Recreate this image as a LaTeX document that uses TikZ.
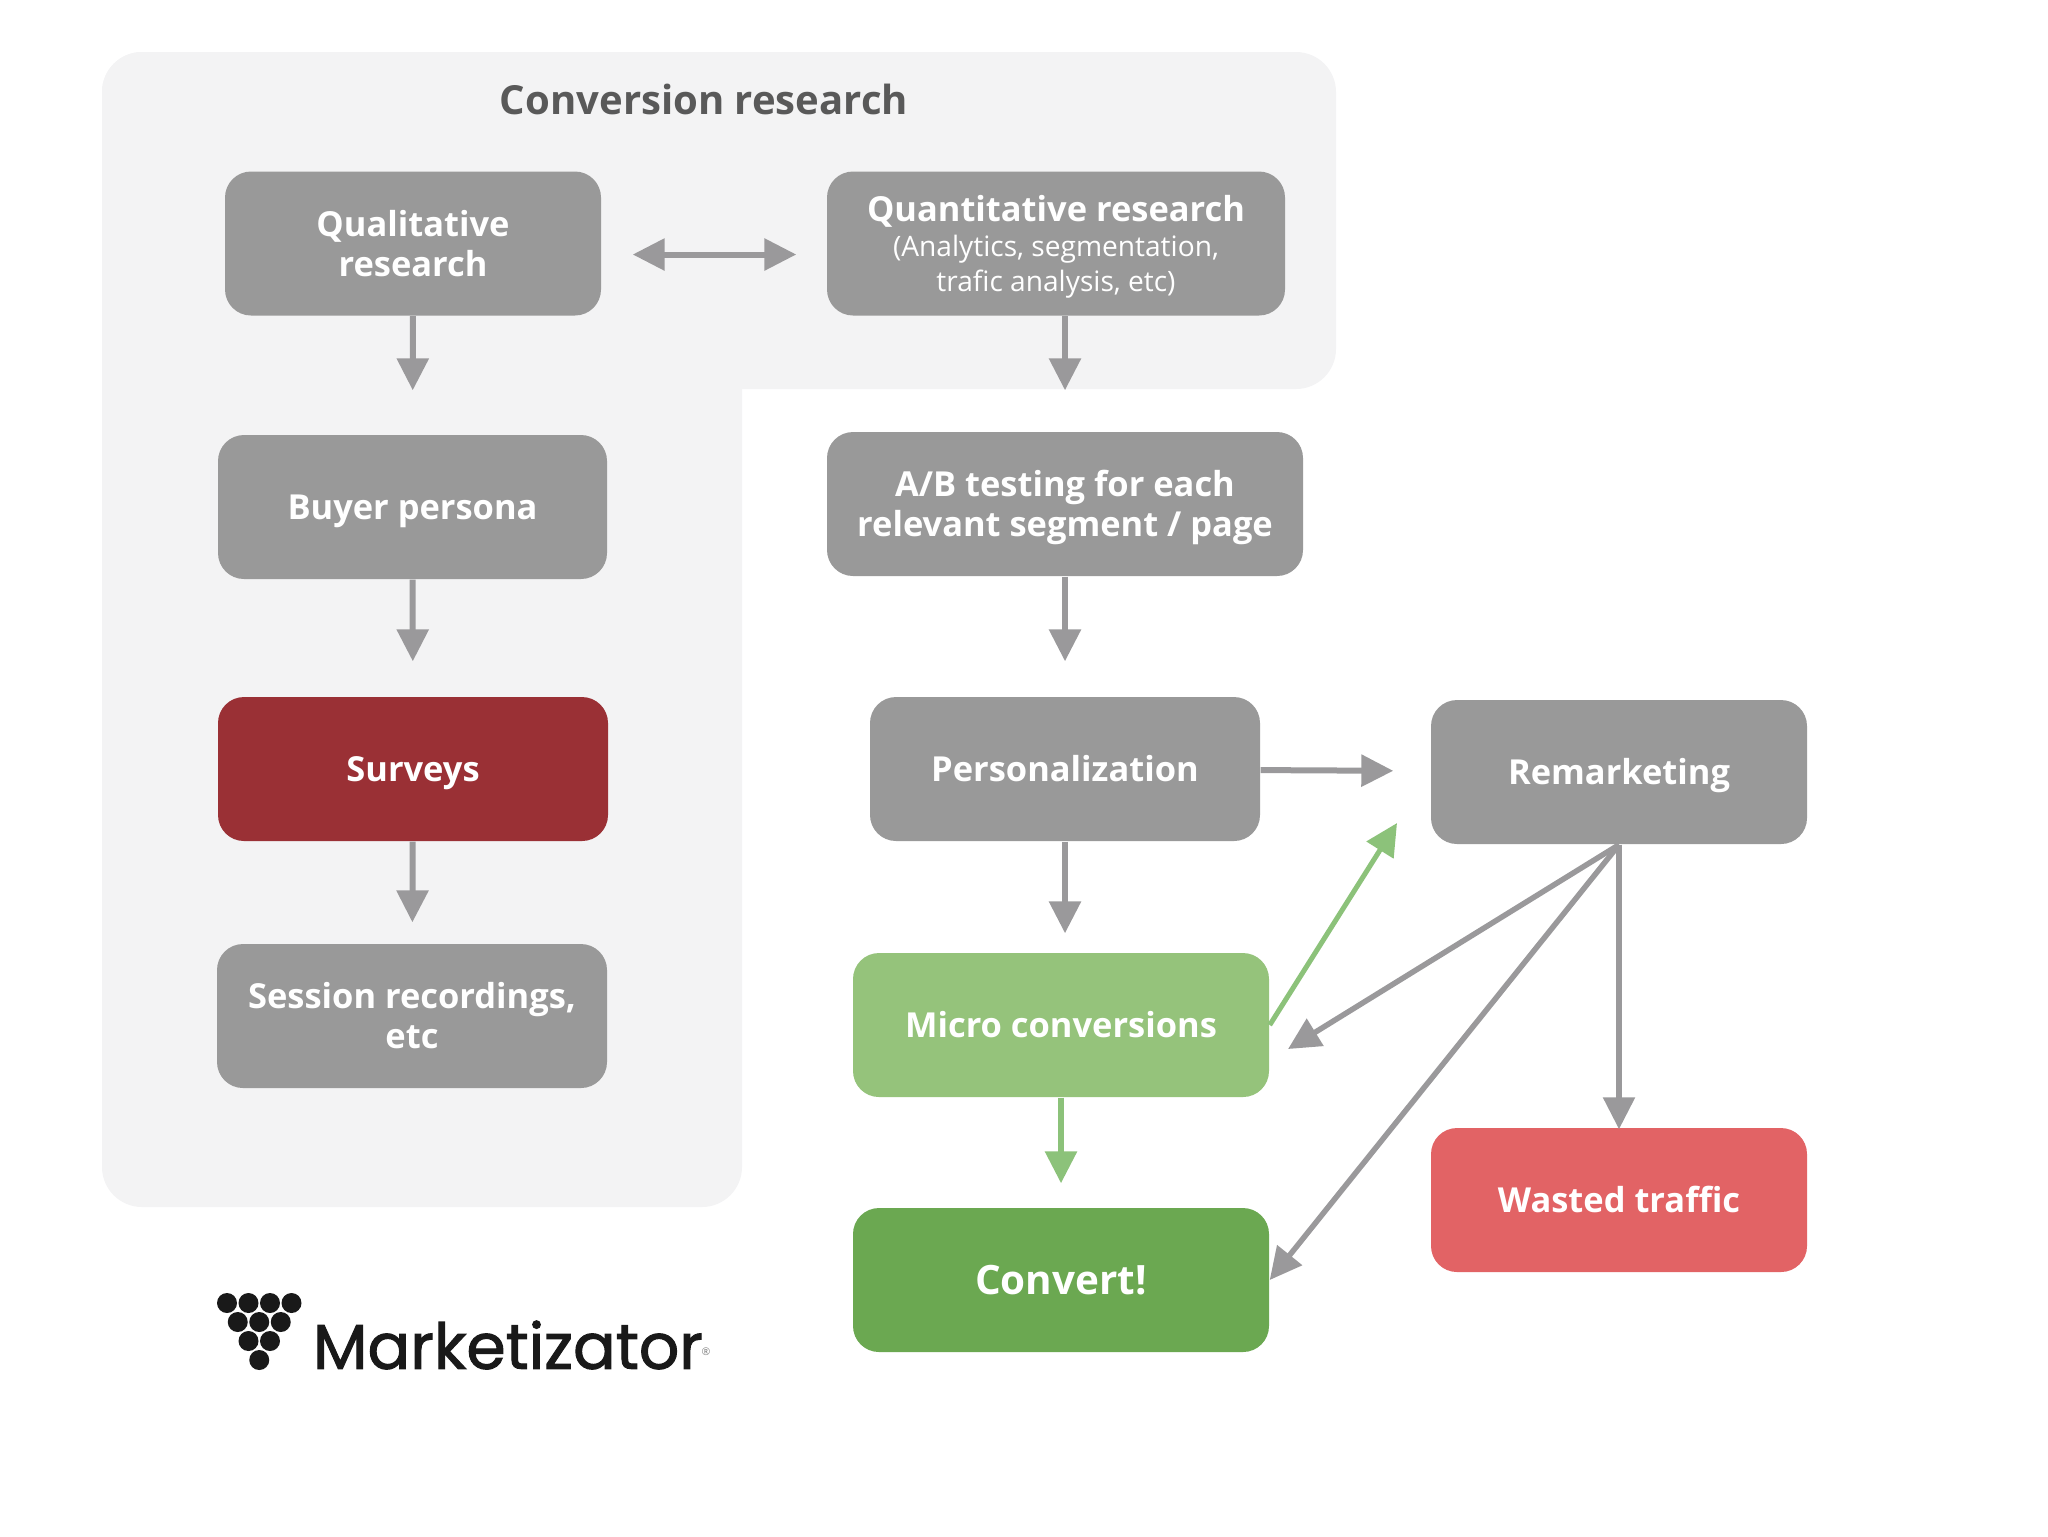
\documentclass[tikz,border=0pt]{standalone}
\usepackage{fontspec}
\setmainfont{Open Sans}
\newfontfamily\logofont[FakeBold=1.6]{Poppins}
\usetikzlibrary{arrows.meta}
\definecolor{panelgray}{HTML}{F3F3F4}
\definecolor{boxgray}{HTML}{999999}
\definecolor{titlegray}{HTML}{595959}
\definecolor{arrowgray}{HTML}{9A999B}
\definecolor{surveyred}{HTML}{9A3035}
\definecolor{wastedred}{HTML}{E26365}
\definecolor{microgreen}{HTML}{95C37B}
\definecolor{convertgreen}{HTML}{6BA851}
\definecolor{arrowgreen}{HTML}{8CC27A}
\newcommand{\subfont}{\mdseries\fontsize{8}{9.7}\selectfont}

\begin{document}
\begin{tikzpicture}[
    x=0.1mm, y=-0.1mm,
    box/.style={rounded corners=2.6mm, fill=boxgray, text=white, align=center, inner sep=0pt,
        minimum height=14.4mm, font=\bfseries\fontsize{9.8}{11.4}\selectfont},
    oneline/.style={box, text height=7pt, text depth=0pt},
    arr/.style={-{Triangle[length=3.2mm,width=3.1mm]}, line width=0.6mm, color=arrowgray},
    thinarr/.style={arr, line width=0.55mm},
    greenarr/.style={arr, color=arrowgreen}
    ]
    \useasboundingbox (0,0) rectangle (2048,1536);

    % background panel
    \fill[panelgray, rounded corners=4mm] (102,52) rectangle (1336,389);
    \fill[panelgray, rounded corners=4mm] (102,52) rectangle (742,1207);
    \node (title) at (704,99) [text=titlegray, font=\bfseries\fontsize{11.4}{14}\selectfont] {Conversion research};

    % left column
    \node (qual) at (413,243.5) [box, minimum width=37.6mm] {Qualitative\\research};
    \node (buyer) at (412.5,507) [oneline, minimum width=38.9mm] {Buyer persona};
    \node (surveys) at (413,769) [oneline, minimum width=39mm, fill=surveyred] {Surveys};
    \node (session) at (412,1016) [box, minimum width=39mm] {Session recordings,\\etc};

    % right column
    \node (quant) at (1056,243.5) [box, minimum width=45.8mm] {\rule{0pt}{9.4pt}Quantitative research\\[-1.4pt]
        {\subfont (Analytics, segmentation,}\\[-1.5pt]{\subfont trafic analysis, etc)}};
    \node (ab) at (1065,504) [box, minimum width=47.6mm] {\rule{0pt}{9.7pt}A/B testing for each\\relevant segment / page};
    \node (pers) at (1065,769) [oneline, minimum width=39mm] {Personalization};
    \node (micro) at (1061,1025) [oneline, minimum width=41.6mm, fill=microgreen] {Micro conversions};
    \node (convert) at (1061,1280) [oneline, text height=8.2pt, minimum width=41.6mm, fill=convertgreen,
        font=\bfseries\fontsize{11.5}{14}\selectfont] {Convert!};

    % far right
    \node (remark) at (1619,772) [oneline, minimum width=37.6mm] {Remarketing};
    \node (wasted) at (1619,1200) [oneline, minimum width=37.6mm, fill=wastedred] {Wasted traffic};

    % free ends of the slanted arrows
    \coordinate (greentip) at (1397,823);
    \coordinate (microtip) at (1288,1049);

    % connectors
    \draw[arr, {Triangle[length=3.2mm,width=3.1mm]}-{Triangle[length=3.2mm,width=3.1mm]},
        shorten <=3.1mm, shorten >=3mm]
        ([yshift=-1.1mm]qual.east) -- ([yshift=-1.1mm]quant.west);
    \draw[arr, shorten >=4.4mm] (qual) -- (buyer);
    \draw[arr, shorten >=3.5mm] (buyer) -- (surveys);
    \draw[arr, shorten >=2.1mm] (surveys) -- (session);
    \draw[arr, shorten >=4.1mm] (ab.north |- quant.south) -- (ab.north);
    \draw[arr, shorten >=3.5mm] (ab) -- (pers);
    \draw[arr, shorten >=1.9mm] (pers.south) -- (pers.south |- micro.north);
    \draw[greenarr, shorten >=2.4mm] (micro) -- (convert);
    \draw[arr, shorten >=3.7mm] (pers) -- (remark);
    \draw[greenarr, line width=0.5mm] (micro.east) -- (greentip);
    \draw[thinarr] (remark.south) -- (microtip);
    \draw[thinarr] (remark.south) -- (convert.east);
    \draw[thinarr, shorten >=-0.2mm] (remark) -- (wasted);

    % logo
    \foreach \row/\count in {0/4,1/3,2/2,3/1}
        \foreach \dot in {1,...,\count}
            \fill[black!90] ({227+10.75*\row+21.5*(\dot-1)},{1303+19*\row}) circle (1mm);
    \node (logo) at (508,1345) [text=black!90, inner sep=0pt, font=\logofont\fontsize{18}{20}\selectfont] {Marketizator};
    \node (logomark) at (706,1352) [text=black!50, inner sep=0pt, font=\fontsize{3}{3}\selectfont] {®};
\end{tikzpicture}
\end{document}
